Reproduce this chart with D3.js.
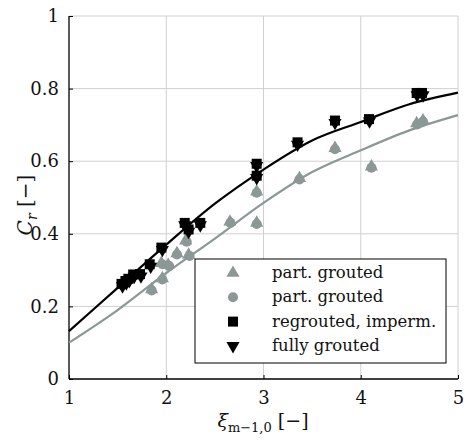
<!doctype html>
<html>
<head>
<meta charset="utf-8">
<script src="https://cdnjs.cloudflare.com/ajax/libs/d3/7.8.5/d3.min.js"></script>
<style>
  body { margin: 0; background: #fff; }
  svg text { font-family: "DejaVu Serif", serif; }
  .grid line { stroke: #d0d0d0; stroke-width: 1; }
</style>
</head>
<body>
<svg id="chart" width="474" height="440"></svg>
<script>
// data (xi_m-1,0 , C_r)
var xTicks = [1, 2, 3, 4, 5];
var yTicks = [0, 0.2, 0.4, 0.6, 0.8, 1];
var yTickLabels = ["0", "0.2", "0.4", "0.6", "0.8", "1"];

var partGroutedTri = [[1.85,0.247],[1.96,0.277],[1.95,0.319],[2.02,0.314],[2.11,0.346],[2.2,0.381],[2.23,0.342],
  [2.655,0.433],[2.93,0.516],[2.93,0.43],[3.37,0.553],[3.735,0.636],[4.11,0.585],[4.575,0.704],[4.64,0.712]];
var partGroutedCirc = [[1.85,0.244],[1.96,0.274],[1.96,0.316],[2.03,0.311],[2.11,0.343],[2.21,0.378],[2.24,0.339],
  [2.66,0.43],[2.93,0.513],[2.93,0.427],[3.37,0.55],[3.735,0.633],[4.11,0.582],[4.58,0.701],[4.64,0.709]];
var regrouted = [[1.54,0.262],[1.58,0.27],[1.61,0.276],[1.66,0.288],[1.73,0.289],[1.83,0.316],[1.95,0.362],
  [2.19,0.43],[2.23,0.412],[2.35,0.43],[2.93,0.593],[2.93,0.56],[3.35,0.652],[3.735,0.712],[4.085,0.716],[4.575,0.788],[4.63,0.788]];
var fullyGrouted = [[1.55,0.256],[1.59,0.264],[1.62,0.27],[1.67,0.282],[1.74,0.283],[1.84,0.31],[1.96,0.356],
  [2.19,0.424],[2.23,0.406],[2.35,0.424],[2.93,0.587],[2.93,0.554],[3.35,0.646],[3.735,0.706],[4.09,0.71],[4.58,0.782],[4.64,0.782]];

// fitted curves
var fitBlack = [[1,0.132],[1.5,0.251],[2,0.37],[2.5,0.483],[3,0.577],[3.5,0.657],[4,0.708],[4.5,0.757],[5,0.789]];
var fitGray  = [[1,0.1],[1.5,0.19],[2,0.292],[2.5,0.387],[3,0.485],[3.5,0.57],[4,0.63],[4.5,0.685],[5,0.727]];

var legendLabels = ["part. grouted", "part. grouted", "regrouted, imperm.", "fully grouted"];

var grayC = "#8c9896";
var svg = d3.select("#chart");
var x = d3.scaleLinear().domain([1, 5]).range([69, 458]);
var y = d3.scaleLinear().domain([0, 1]).range([379, 16]);

// grid
var grid = svg.append("g").attr("class", "grid");
grid.selectAll("line.v").data(xTicks.slice(1)).enter().append("line")
  .attr("x1", d => x(d)).attr("x2", d => x(d)).attr("y1", y(0)).attr("y2", y(1));
grid.selectAll("line.h").data(yTicks.slice(1)).enter().append("line")
  .attr("x1", x(1)).attr("x2", x(5)).attr("y1", d => y(d)).attr("y2", d => y(d));

// axes
var xAxis = d3.axisBottom(x).tickValues(xTicks).tickSize(-4).tickPadding(12).tickFormat(d3.format("d"));
var yAxis = d3.axisLeft(y).tickValues(yTicks).tickSize(-4).tickPadding(10).tickFormat((d, i) => yTickLabels[i]);
var gx = svg.append("g").attr("transform", "translate(0," + y(0) + ")").call(xAxis);
var gy = svg.append("g").attr("transform", "translate(" + x(1) + ",0)").call(yAxis);
[gx, gy].forEach(g => {
  g.attr("font-family", null);
  g.select(".domain").attr("stroke", "#000").attr("stroke-width", 1.3);
  g.selectAll(".tick line").attr("stroke", "#000");
  g.selectAll(".tick text").attr("font-size", 18).attr("fill", "#111");
});
gx.select(".domain").attr("d", "M" + x(1) + ",0H" + x(5));
gy.select(".domain").attr("d", "M0," + y(0) + "V" + y(1));

// curves
var line = d3.line().x(d => x(d[0])).y(d => y(d[1])).curve(d3.curveMonotoneX);
svg.append("path").attr("d", line(fitGray)).attr("fill", "none").attr("stroke", grayC).attr("stroke-width", 2.2);
svg.append("path").attr("d", line(fitBlack)).attr("fill", "none").attr("stroke", "#000").attr("stroke-width", 2.2);

// markers
function marks(data, type, size, color, rot) {
  svg.append("g").selectAll("path").data(data).enter().append("path")
    .attr("d", d3.symbol().type(type).size(size))
    .attr("transform", d => "translate(" + x(d[0]) + "," + y(d[1]) + ")" + (rot ? " rotate(180)" : ""))
    .attr("fill", color);
}
marks(partGroutedCirc, d3.symbolCircle, 80, grayC, false);
marks(partGroutedTri, d3.symbolTriangle, 75, grayC, false);
marks(regrouted, d3.symbolSquare, 100, "#000", false);
marks(fullyGrouted, d3.symbolTriangle, 75, "#000", true);

// legend
var lg = svg.append("g");
lg.append("rect").attr("x", 195).attr("y", 259).attr("width", 251).attr("height", 104)
  .attr("fill", "#fff").attr("stroke", "#000").attr("stroke-width", 1);
var legSym = [[d3.symbolTriangle, 75, grayC, false], [d3.symbolCircle, 80, grayC, false],
  [d3.symbolSquare, 100, "#000", false], [d3.symbolTriangle, 75, "#000", true]];
legendLabels.forEach((t, i) => {
  var yy = 273 + i * 24.3;
  lg.append("path").attr("d", d3.symbol().type(legSym[i][0]).size(legSym[i][1]))
    .attr("transform", "translate(233," + yy + ")" + (legSym[i][3] ? " rotate(180)" : ""))
    .attr("fill", legSym[i][2]);
  lg.append("text").attr("x", 272).attr("y", yy + 5).attr("font-size", 16.5).attr("fill", "#111").text(t);
});

// axis labels
var xl = svg.append("text").attr("x", 263).attr("y", 427).attr("text-anchor", "middle").attr("font-size", 19).attr("fill", "#111");
xl.append("tspan").attr("font-style", "italic").text("ξ");
xl.append("tspan").attr("font-size", 13).attr("dy", 5).text("m−1,0");
xl.append("tspan").attr("dy", -5).text(" [−]");

var yl = svg.append("text").attr("transform", "translate(32,205) rotate(-90)").attr("text-anchor", "middle")
  .attr("font-size", 20).attr("fill", "#111");
yl.append("tspan").attr("font-style", "italic").text("C");
yl.append("tspan").attr("font-size", 14).attr("font-style", "italic").attr("dy", 5).text("r");
yl.append("tspan").attr("dy", -5).text(" [−]");
</script>
</body>
</html>
